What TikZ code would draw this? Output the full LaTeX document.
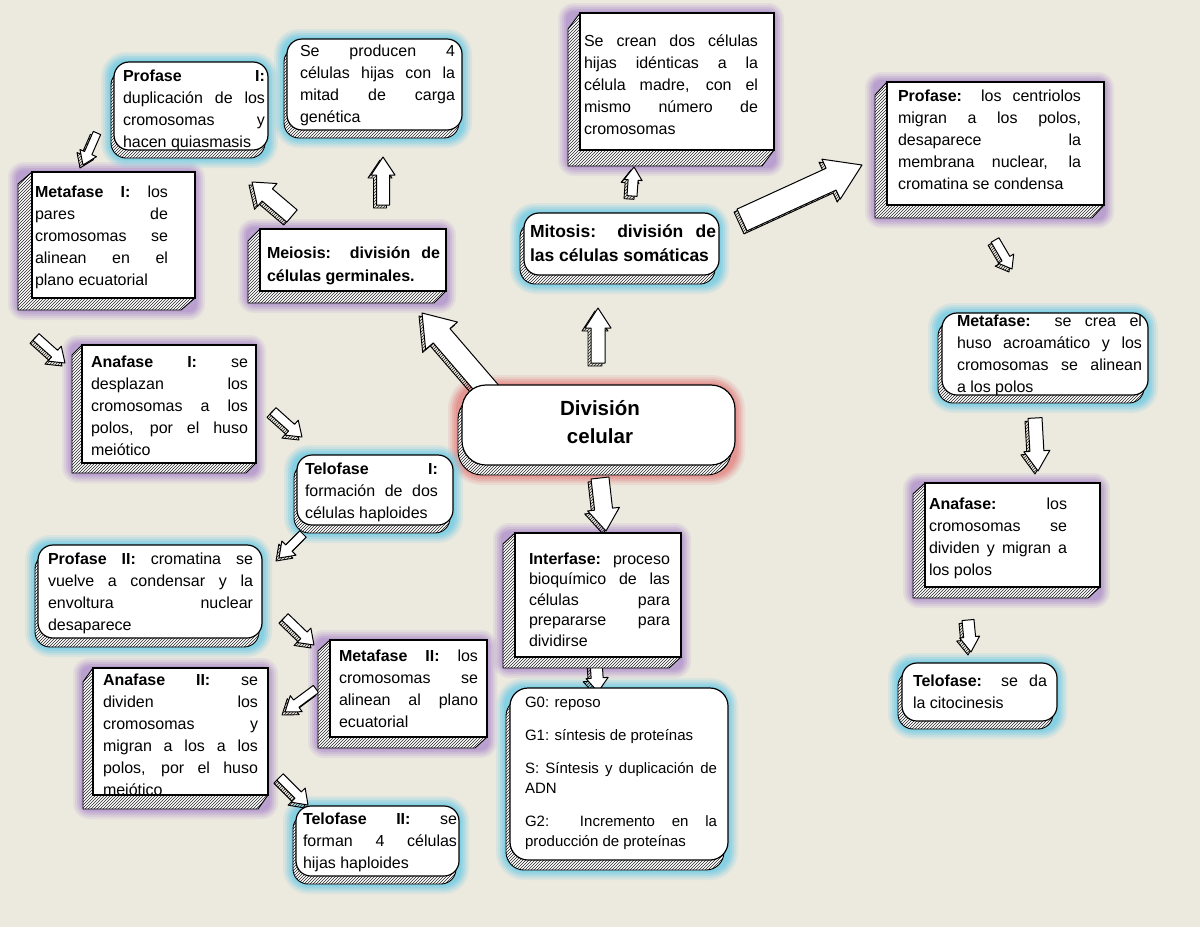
\documentclass[tikz,border=0pt]{standalone}
\usepackage{fontspec}
\setmainfont{Liberation Sans}
\usetikzlibrary{calc,patterns}
\tolerance=10000 \hbadness=10000 \hyphenpenalty=10000 \exhyphenpenalty=10000
\pgfdeclarelayer{glowlayer}
\pgfsetlayers{glowlayer,main}
\definecolor{bgc}{RGB}{236,233,223}
\definecolor{gP}{RGB}{180,150,205}
\definecolor{gC}{RGB}{120,205,228}
\definecolor{gR}{RGB}{228,140,136}
\tikzset{
  hatch/.style={preaction={fill=white}, pattern=north east lines, pattern color=black!85, draw=black, line width=0.9pt, line join=round},
  front/.style={draw=black, line width=1.2pt, fill=white, inner sep=0pt, outer sep=0pt, anchor=north west},
  arrowbody/.style={draw=black, line width=1pt, fill=white, line join=round},
  txt/.style={inner sep=0pt, outer sep=0pt, anchor=north west, align=justify, font=\fontsize{16}{22}\selectfont, execute at begin node=\strut},
}
\newcommand\glow[6]{%
  \begin{pgfonlayer}{glowlayer}
    \foreach \p/\o in {10/.15,8/.2,6/.3,4/.4,2/.55}{
      \fill[#1,opacity=\o,rounded corners=#6+\p] (#2-\p,#3-\p) rectangle (#4+\p,#5+\p);}
  \end{pgfonlayer}}
\newcommand\rbox[8]{%
  \glow{#2}{#3+#7}{#4}{#5}{#6+#8}{6}
  \filldraw[hatch] (#3,#4) -- (#3+#7,#4+#8) -- (#3+#7,#6+#8) -- (#5+#7,#6+#8) -- (#5,#6) -- cycle;
  \node[front, minimum width={(#5-#3)*1pt}, minimum height={(#6-#4)*1pt}] (#1) at (#3,#4) {};}
\newcommand\cbox[9]{%
  \glow{#2}{#3+#7}{#4}{#5}{#6+#8}{#9}
  \filldraw[hatch, rounded corners=#9] (#3+#7,#4+#8) rectangle (#5+#7,#6+#8);
  \node[front, rounded corners=#9, minimum width={(#5-#3)*1pt}, minimum height={(#6-#4)*1pt}] (#1) at (#3,#4) {};}
\newcommand\arrowpoly[4]{($(#1)!#3pt!90:(#2)$) -- ($(nk)!#3pt!90:(#2)$) -- ($(nk)!#4pt!90:(#2)$) -- (#2) -- ($(nk)!#4pt!-90:(#2)$) -- ($(nk)!#3pt!-90:(#2)$) -- ($(#1)!#3pt!-90:(#2)$) -- cycle}
\newcommand\blockarrow[5]{%
  \coordinate (nk) at ($(#2)!#5pt!(#1)$);
  \filldraw[hatch, transform canvas={shift={(-3,3)}}] \arrowpoly{#1}{#2}{#3}{#4};
  \filldraw[arrowbody] \arrowpoly{#1}{#2}{#3}{#4};}
\begin{document}
\begin{tikzpicture}[x=1pt,y=-1pt]
\useasboundingbox (0,0) rectangle (1200,927);
\begin{pgfonlayer}{glowlayer}
\fill[bgc] (0,0) rectangle (1200,927);
\end{pgfonlayer}

% arrow end points
\coordinate (a1s) at (97,133);   \coordinate (a1e) at (83,165);
\coordinate (a2s) at (36,337);   \coordinate (a2e) at (65,363);
\coordinate (a3s) at (273,411);  \coordinate (a3e) at (302,437);
\coordinate (a4s) at (303,534);  \coordinate (a4e) at (279,558);
\coordinate (a5s) at (285,617);  \coordinate (a5e) at (314,645);
\coordinate (a6s) at (316,689);  \coordinate (a6e) at (285,712);
\coordinate (a7s) at (280,777);  \coordinate (a7e) at (308,805);
\coordinate (a8s) at (292,216);  \coordinate (a8e) at (252,182);
\coordinate (a9s) at (383,205);  \coordinate (a9e) at (383,157);
\coordinate (a10s) at (490,392); \coordinate (a10e) at (422,313);
\coordinate (a11s) at (598,363); \coordinate (a11e) at (598,308);
\coordinate (a12s) at (632,196); \coordinate (a12e) at (634,167);
\coordinate (a13s) at (742,220); \coordinate (a13e) at (862,165);
\coordinate (a14s) at (995,240); \coordinate (a14e) at (1012,269);
\coordinate (a15s) at (1035,418);\coordinate (a15e) at (1038,471);
\coordinate (a16s) at (968,620); \coordinate (a16e) at (971,652);
\coordinate (a17s) at (600,478); \coordinate (a17e) at (606,531);
\coordinate (a18s) at (596,660); \coordinate (a18e) at (598,692);

\blockarrow{a1s}{a1e}{4}{9}{13}
\blockarrow{a2s}{a2e}{4.5}{10}{14}
\blockarrow{a3s}{a3e}{4.5}{10}{14}
\blockarrow{a4s}{a4e}{4.5}{10}{14}
\blockarrow{a5s}{a5e}{4.5}{10}{14}
\blockarrow{a6s}{a6e}{4.5}{10}{14}
\blockarrow{a7s}{a7e}{4.5}{10}{14}
\blockarrow{a8s}{a8e}{8}{15}{20}
\blockarrow{a9s}{a9e}{6.5}{12}{18}
\blockarrow{a10s}{a10e}{11}{21}{30}
\blockarrow{a11s}{a11e}{7}{13}{20}
\blockarrow{a12s}{a12e}{5}{9}{13}
\blockarrow{a13s}{a13e}{12}{22}{34}
\blockarrow{a14s}{a14e}{4.5}{9}{12}
\blockarrow{a15s}{a15e}{7}{13}{20}
\blockarrow{a16s}{a16e}{6}{10}{15}
\blockarrow{a17s}{a17e}{9}{16}{22}
\blockarrow{a18s}{a18e}{6}{11}{14}

% rectangular boxes
\rbox{mI}{gP}{32}{172}{195}{298}{-14}{12}
\rbox{mei}{gP}{260}{229}{446}{291}{-12}{12}
\rbox{sc}{gP}{580}{13}{774}{150}{-12}{16}
\rbox{pro}{gP}{887}{82}{1104}{205}{-12}{13}
\rbox{ana}{gP}{925}{483}{1100}{587}{-12}{11}
\rbox{aI}{gP}{82}{345}{256}{463}{-10}{10}
\rbox{mII}{gP}{330}{640}{487}{737}{-12}{11}
\rbox{aII}{gP}{93}{668}{268}{795}{-10}{14}
\rbox{int}{gP}{515}{533}{681}{657}{-12}{11}
% rounded boxes
\cbox{pI}{gC}{114}{62}{268}{150}{-3}{8}{15}
\cbox{sp}{gC}{287}{39}{462}{130}{-3}{8}{15}
\cbox{mit}{gC}{524}{213}{719}{275}{-4}{9}{15}
\cbox{div}{gR}{462}{385}{735}{465}{-4}{10}{24}
\cbox{met}{gC}{942}{313}{1148}{395}{-4}{8}{15}
\cbox{tel}{gC}{902}{663}{1057}{721}{-4}{8}{15}
\cbox{tI}{gC}{297}{455}{453}{525}{-3}{8}{15}
\cbox{pII}{gC}{38}{545}{262}{638}{-3}{9}{15}
\cbox{tII}{gC}{296}{806}{459}{876}{-3}{8}{15}
\cbox{g}{gC}{510}{688}{728}{860}{-4}{10}{18}

% texts
\node[txt, text width=142pt] (pIt) at (123,66) {\textbf{Profase I:}\linebreak duplicación de los\linebreak cromosomas y\linebreak hacen quiasmasis};
\node[txt, text width=155pt] (spt) at (300,41) {Se producen 4\linebreak células hijas con la\linebreak mitad de carga\linebreak genética};
\node[txt, text width=133pt] (mIt) at (35,182) {\textbf{Metafase I:} los\linebreak pares de\linebreak cromosomas se\linebreak alinean en el\linebreak plano ecuatorial};
\node[txt, text width=173pt, font=\fontsize{16}{23}\selectfont\bfseries] (meit) at (267,242) {Meiosis: división de\linebreak células germinales.};
\node[txt, text width=174pt] (sct) at (584,31) {Se crean dos células\linebreak hijas idénticas a la\linebreak célula madre, con el\linebreak mismo número de\linebreak cromosomas};
\node[txt, text width=183pt] (prot) at (898,86) {\textbf{Profase:} los centriolos\linebreak migran a los polos,\linebreak desaparece la\linebreak membrana nuclear, la\linebreak cromatina se condensa};
\node[txt, text width=186pt, font=\fontsize{17.5}{24}\selectfont\bfseries] (mitt) at (530,221) {Mitosis: división de\linebreak las células somáticas};
\node[inner sep=0pt, align=center, font=\fontsize{20.5}{28}\selectfont\bfseries] (divt) at (600,422) {División\\celular};
\node[txt, text width=185pt] (mett) at (957,311) {\textbf{Metafase:} se crea el\linebreak huso acroamático y los\linebreak cromosomas se alinean\linebreak a los polos};
\node[txt, text width=138pt] (anat) at (929,494) {\textbf{Anafase:} los\linebreak cromosomas se\linebreak dividen y migran a\linebreak los polos};
\node[txt, text width=134pt] (telt) at (913,671) {\textbf{Telofase:} se da\linebreak la citocinesis};
\node[txt, text width=157pt] (aIt) at (91,352) {\textbf{Anafase I:} se\linebreak desplazan los\linebreak cromosomas a los\linebreak polos, por el huso\linebreak meiótico};
\node[txt, text width=133pt] (tIt) at (305,459) {\textbf{Telofase I:}\linebreak formación de dos\linebreak células haploides};
\node[txt, text width=205pt] (pIIt) at (48,549) {\textbf{Profase II:} cromatina se\linebreak vuelve a condensar y la\linebreak envoltura nuclear\linebreak desaparece};
\node[txt, text width=139pt] (mIIt) at (339,646) {\textbf{Metafase II:} los\linebreak cromosomas se\linebreak alinean al plano\linebreak ecuatorial};
\node[txt, text width=155pt] (aIIt) at (103,670) {\textbf{Anafase II:} se\linebreak dividen los\linebreak cromosomas y\linebreak migran a los a los\linebreak polos, por el huso\linebreak meiótico};
\node[txt, text width=154pt] (tIIt) at (303,809) {\textbf{Telofase II:} se\linebreak forman 4 células\linebreak hijas haploides};
\node[txt, text width=141pt, font=\fontsize{16}{20.5}\selectfont] (intt) at (529,550) {\textbf{Interfase:} proceso\linebreak bioquímico de las\linebreak células para\linebreak prepararse para\linebreak dividirse};
\node[txt, text width=192pt, font=\fontsize{15}{20}\selectfont] (gt) at (525,693) {G0: reposo\\[13pt]G1: síntesis de proteínas\\[13pt]S: Síntesis y duplicación de\linebreak ADN\\[13pt]G2: Incremento en la\linebreak producción de proteínas};
\end{tikzpicture}
\end{document}
